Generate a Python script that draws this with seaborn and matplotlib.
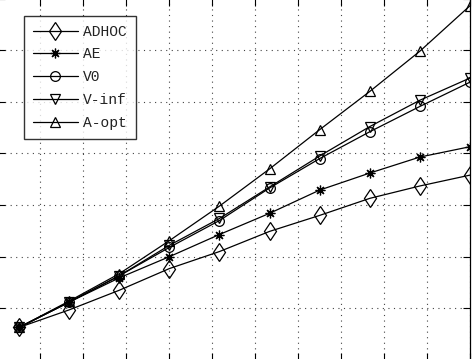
import numpy as np
import pandas as pd
import matplotlib
matplotlib.use('Agg')
import matplotlib.pyplot as plt
import seaborn as sns

# x positions (index of the run) and the five curves
steps = [1, 2, 3, 4, 5, 6, 7, 8, 9, 10]
adhoc = [0.63, 0.97, 1.35, 1.77, 2.10, 2.49, 2.80, 3.13, 3.37, 3.58]
ae = [0.63, 1.12, 1.59, 2.00, 2.43, 2.84, 3.29, 3.62, 3.93, 4.13]
v0 = [0.63, 1.12, 1.63, 2.18, 2.70, 3.33, 3.90, 4.42, 4.91, 5.38]
v_inf = [0.63, 1.12, 1.63, 2.22, 2.74, 3.35, 3.95, 4.52, 5.03, 5.46]
a_opt = [0.63, 1.14, 1.67, 2.31, 2.98, 3.70, 4.46, 5.20, 5.98, 6.86]

series = {'ADHOC': adhoc, 'AE': ae, 'V0': v0, 'V-inf': v_inf, 'A-opt': a_opt}
markers = {'ADHOC': 'd', 'AE': (8, 2, 0), 'V0': 'o', 'V-inf': 'v', 'A-opt': '^'}
sizes = {'ADHOC': 9.5, 'AE': 7, 'V0': 7, 'V-inf': 7.5, 'A-opt': 7.5}

sns.set_theme(style='white')
plt.rcParams['font.family'] = ['Liberation Mono', 'DejaVu Sans Mono']

fig = plt.figure(figsize=(4.74, 3.59), dpi=100)
ax = fig.add_axes([-2.5 / 474, -1.0 / 359, 472.5 / 474, 361.5 / 359])

for name, vals in series.items():
    df = pd.DataFrame({'x': steps, 'y': vals})
    sns.lineplot(data=df, x='x', y='y', ax=ax, color='black', linewidth=0.9,
                 marker=markers[name], markersize=sizes[name],
                 markerfacecolor='none', markeredgecolor='black',
                 markeredgewidth=0.9, label=name)

x0 = 4 - 4 * 6 / 7
ax.set_xlim(x0, 10)
ax.set_ylim(0, 7)
ax.set_xticks([x0 + k * 6 / 7 for k in range(12)])
ax.set_yticks(range(8))
ax.set_xticklabels([])
ax.set_yticklabels([])
ax.set_xlabel('')
ax.set_ylabel('')
ax.tick_params(direction='in', length=5, width=0.8, colors='black',
               top=True, right=True, bottom=True, left=True)
ax.grid(True, linestyle=(0, (1, 4)), color='#444444', linewidth=0.8)
for sp in ax.spines.values():
    sp.set_color('black')
    sp.set_linewidth(0.9)

leg = ax.legend(loc='upper left', bbox_to_anchor=(24 / 474, 1 - 16 / 359),
                bbox_transform=fig.transFigure, borderaxespad=0,
                fontsize=10.5, frameon=True, fancybox=False, edgecolor='black',
                handlelength=3.1, handletextpad=0.35, labelspacing=0.6,
                borderpad=0.6)
leg.get_frame().set_linewidth(1.0)
for t in leg.get_texts():
    t.set_color('#222222')

fig.savefig('out.png', dpi=100)
